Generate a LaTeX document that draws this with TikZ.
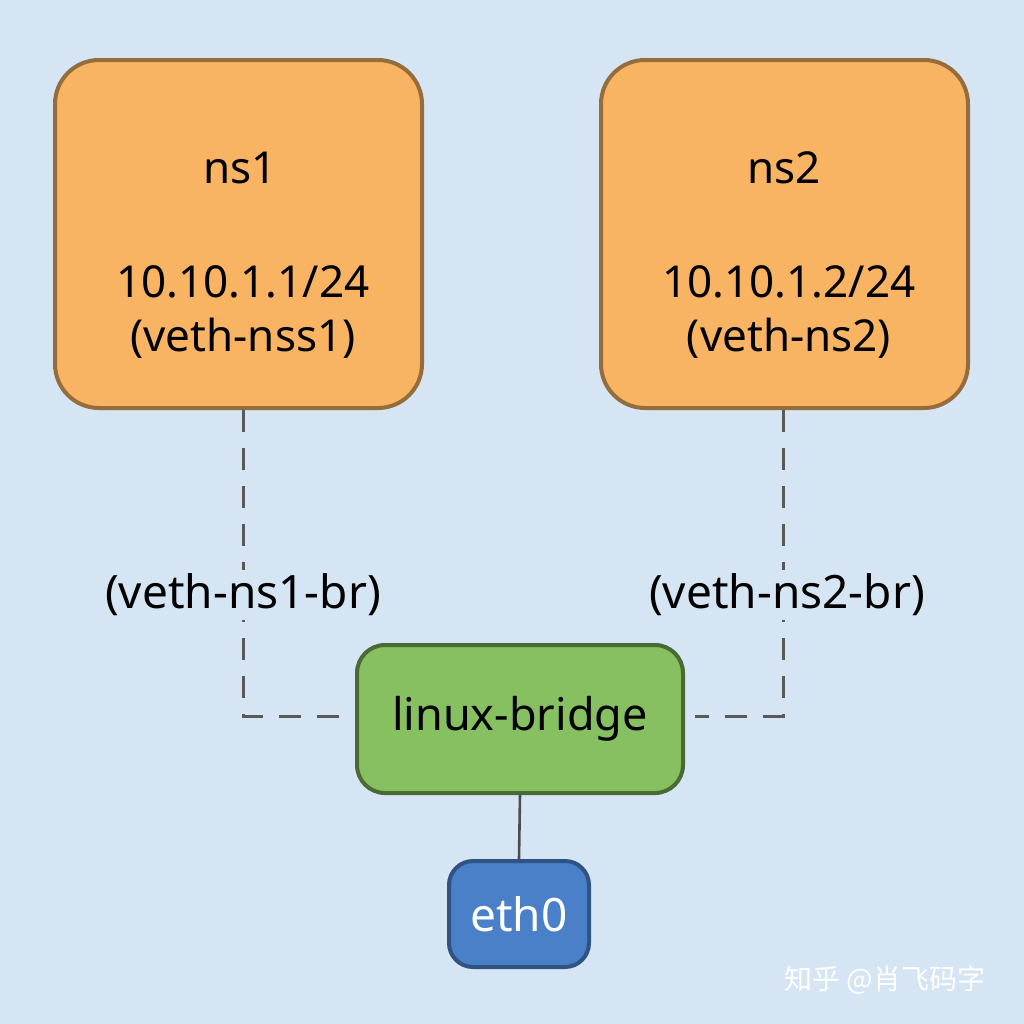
\documentclass[tikz,border=0pt]{standalone}
\usepackage{fontspec}
\setmainfont{Noto Sans}
\newfontfamily\cjk{Noto Sans CJK SC}
\begin{document}
\begin{tikzpicture}[x=0.5pt,y=-0.5pt,
  nsbox/.style={line width=2pt, fill=nsfill, rounded corners=22pt},
  lbl/.style={font=\fontsize{23}{27}\selectfont, fill=bg, inner sep=2pt},
  dl/.style={dash pattern=on 11pt off 8pt, line width=1.5pt, draw=black!65}]
\definecolor{bg}{HTML}{D6E5F3}
\definecolor{nsfill}{HTML}{F9B463}
\definecolor{brfill}{HTML}{86C060}
\definecolor{ethfill}{HTML}{4A80C8}
\fill[bg] (0,0) rectangle (1024,1024);
\useasboundingbox (0,0) rectangle (1024,1024);
\draw[nsbox, draw=nsfill!60!black] (55,60) rectangle (422,408);
\draw[nsbox, draw=nsfill!60!black] (601,60) rectangle (968,408);
\node[font=\fontsize{22}{26}\selectfont] (ns1) at (240,168) {ns1};
\node[font=\fontsize{22}{26}\selectfont] (ns2) at (784,168) {ns2};
\node[font=\fontsize{22}{27}\selectfont, align=center] (ip1) at (243,312) {10.10.1.1/24\\(veth-nss1)};
\node[font=\fontsize{22}{27}\selectfont, align=center] (ip2) at (789,312) {10.10.1.2/24\\(veth-ns2)};
\coordinate (a1) at (243,410);
\coordinate (a2) at (783,410);
\coordinate (c1) at (243,716);
\coordinate (c2) at (783,716);
\node[draw=brfill!55!black, line width=2pt, fill=brfill, rounded corners=14pt, minimum width=163pt, minimum height=74pt, font=\fontsize{22.5}{26}\selectfont] (br) at (520,719) {linux-bridge};
\node[draw=ethfill!65!black, line width=2pt, fill=ethfill, rounded corners=12pt, minimum width=70pt, minimum height=53pt, text=white, font=\fontsize{23}{26}\selectfont] (eth) at (519,914) {eth0};
\draw[dl] (a1) -- (c1) -- ([xshift=-6pt]c1 -| br.west);
\draw[dl] (a2) -- (c2) -- ([xshift=5pt]c2 -| br.east);
\node[lbl] (l1) at (243,595) {(veth-ns1-br)};
\node[lbl] (l2) at (787,595) {(veth-ns2-br)};
\draw[line width=1.3pt, black!70] (br.south) -- (eth.north);
\node[text=white, font=\cjk\fontsize{14}{16}\selectfont] (wm) at (885,980) {知乎 @肖飞码字};
\end{tikzpicture}
\end{document}
